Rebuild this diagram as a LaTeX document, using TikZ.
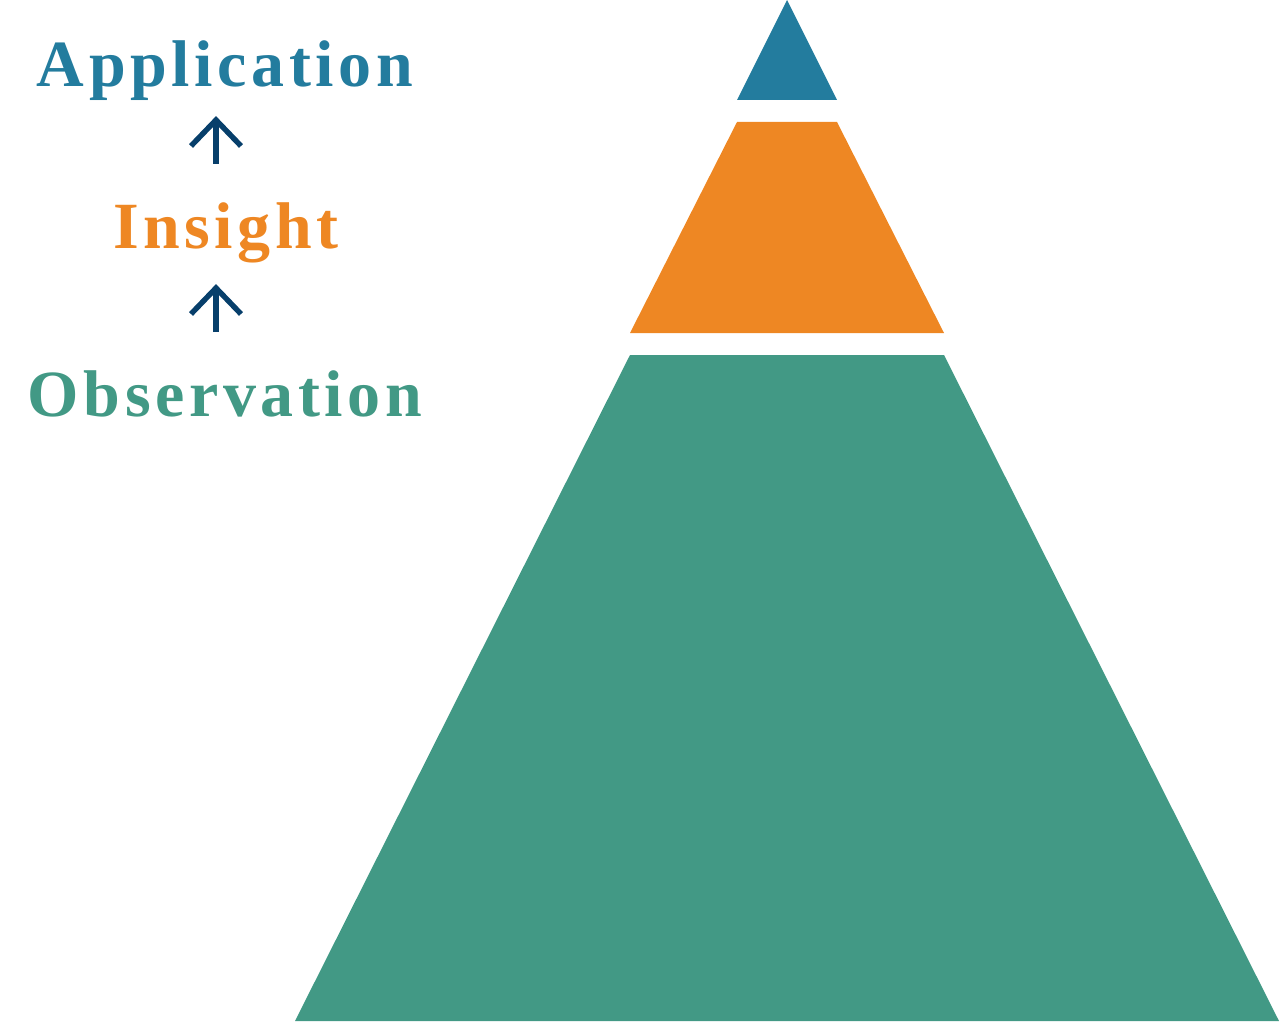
\documentclass[tikz,border=0pt]{standalone}
\usepackage{fontspec}
\setmainfont{Liberation Serif}
\newfontfamily\labfont{Liberation Serif}[LetterSpace=7]
\definecolor{appblue}{HTML}{237C9E}
\definecolor{insorange}{HTML}{EE8723}
\definecolor{obsgreen}{HTML}{429985}
\definecolor{arrblue}{HTML}{073F6B}
\begin{document}
\begin{tikzpicture}[x=0.5pt,y=-0.5pt,
  lab/.style={font=\labfont\bfseries\fontsize{33}{39}\selectfont, anchor=base, inner sep=0pt},
  uparrow/.style={draw=arrblue, line width=2.7pt, miter limit=10}]
\useasboundingbox (0,0) rectangle (1280,1022);
% pyramid
\fill[appblue] (787,0) -- (837,100) -- (737,100) -- cycle;
\fill[insorange] (737,122) -- (837,122) -- (944,333) -- (630,333) -- cycle;
\fill[obsgreen] (630,355) -- (944,355) -- (1279,1021) -- (295,1021) -- cycle;
% labels
\node[lab, text=appblue] (app) at (225,87) {Application};
\node[lab, text=insorange] (ins) at (226,248) {Insight};
\node[lab, text=obsgreen] (obs) at (225,416) {Observation};
% arrows
\coordinate (a1b) at (216,164);
\coordinate (a1t) at (216,120);
\coordinate (a2b) at (216,332);
\coordinate (a2t) at (216,288);
\draw[uparrow] (a1b) -- (a1t);
\draw[uparrow] (a1t) +(-25,26) -- (a1t) -- +(25,26);
\draw[uparrow] (a2b) -- (a2t);
\draw[uparrow] (a2t) +(-25,26) -- (a2t) -- +(25,26);
\end{tikzpicture}
\end{document}
